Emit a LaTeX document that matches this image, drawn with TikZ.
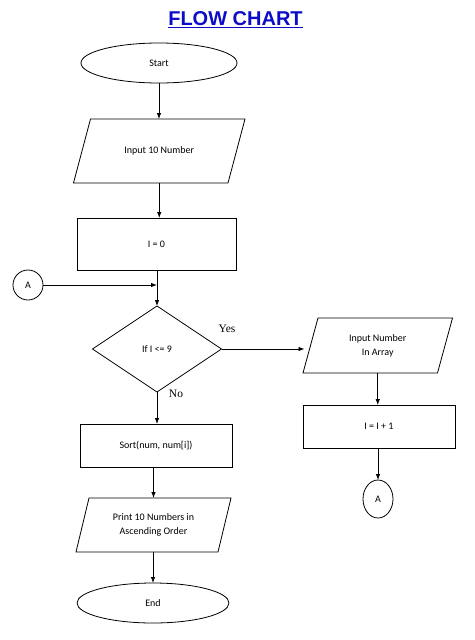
\documentclass[tikz,border=0pt]{standalone}
\usepackage{fontspec}
\setmainfont{Carlito}
\newfontfamily\titlefont{Liberation Sans}
\newfontfamily\labelfont{Liberation Serif}
\usetikzlibrary{shapes.geometric,arrows.meta,calc}
\definecolor{titleblue}{RGB}{12,12,200}
\begin{document}
\begin{tikzpicture}[x=1pt,y=-1pt,
  every node/.style={font=\fontsize{10}{14}\selectfont, inner sep=0pt, outer sep=0pt, align=center},
  line/.style={line width=0.8pt},
  arrow/.style={line, -{Latex[length=6pt,width=4.5pt]}},
  rectbox/.style={draw, line width=0.8pt, rectangle},
  oval/.style={draw, line width=0.8pt, ellipse},
  iobox/.style={rectangle},
  decision/.style={draw, line width=0.8pt, diamond},
  branch/.style={font=\labelfont\fontsize{11.5}{14}\selectfont}
]
\useasboundingbox (0,0) rectangle (474,640);

\node[font=\titlefont\bfseries\fontsize{20}{24}\selectfont, text=titleblue] (title) at (235.5,20) {\underline{FLOW CHART}};

\node[oval, minimum width=156pt, minimum height=40pt] (start) at (159,63) {Start};

\node[iobox, minimum width=154.5pt, minimum height=64pt] (in10) at (159.25,151) {Input 10 Number};
\draw[line] ($(in10.north west)+(8.5,0)$) -- ($(in10.north east)+(8.5,0)$) -- ($(in10.south east)+(-8.5,0)$) -- ($(in10.south west)+(-8.5,0)$) -- cycle;

\node[rectbox, minimum width=159pt, minimum height=52pt] (i0) at (156.5,244) {I = 0};

\node[draw, line width=0.8pt, circle, minimum size=30pt] (a1) at (28,285) {A};

\node[decision, minimum width=129pt, minimum height=86pt] (dia) at (157,349) {If I <= 9};

\node[iobox, minimum width=134.5pt, minimum height=55pt] (arr) at (377.75,345.5) {Input Number\\In Array};
\draw[line] ($(arr.north west)+(7.5,0)$) -- ($(arr.north east)+(7.5,0)$) -- ($(arr.south east)+(-7.5,0)$) -- ($(arr.south west)+(-7.5,0)$) -- cycle;

\node[rectbox, minimum width=152pt, minimum height=43pt] (inc) at (379,426.5) {I = I + 1};

\node[oval, minimum width=30pt, minimum height=38pt] (a2) at (378,499) {A};

\node[rectbox, minimum width=152pt, minimum height=43pt] (sort) at (156,445.5) {Sort(num, num[i])};

\node[iobox, minimum width=142pt, minimum height=54pt] (print) at (153.5,525) {Print 10 Numbers in\\Ascending Order};
\draw[line] ($(print.north west)+(6.5,0)$) -- ($(print.north east)+(6.5,0)$) -- ($(print.south east)+(-6.5,0)$) -- ($(print.south west)+(-6.5,0)$) -- cycle;

\node[oval, minimum width=152pt, minimum height=40pt] (end) at (153,603) {End};

\node[branch] (yes) at (227,329) {Yes};
\node[branch] (no) at (176,394) {No};

\draw[arrow] (start.south) -- (start.south |- in10.north);
\draw[arrow] (in10.south) -- (in10.south |- i0.north);
\draw[arrow] (i0.south -| dia.north) -- (dia.north);
\draw[arrow] (a1.east) -- (a1.east -| dia.north);
\draw[arrow] (dia.east) -- ($(dia.east -| arr.west)+(-6,0)$);
\draw[arrow] (arr.south) -- (arr.south |- inc.north);
\draw[arrow] (inc.south -| a2.north) -- (a2.north);
\draw[arrow] (dia.south) -- (dia.south |- sort.north);
\draw[arrow] (sort.south -| print.north) -- (print.north);
\draw[arrow] (print.south -| end.north) -- (end.north);
\end{tikzpicture}
\end{document}
